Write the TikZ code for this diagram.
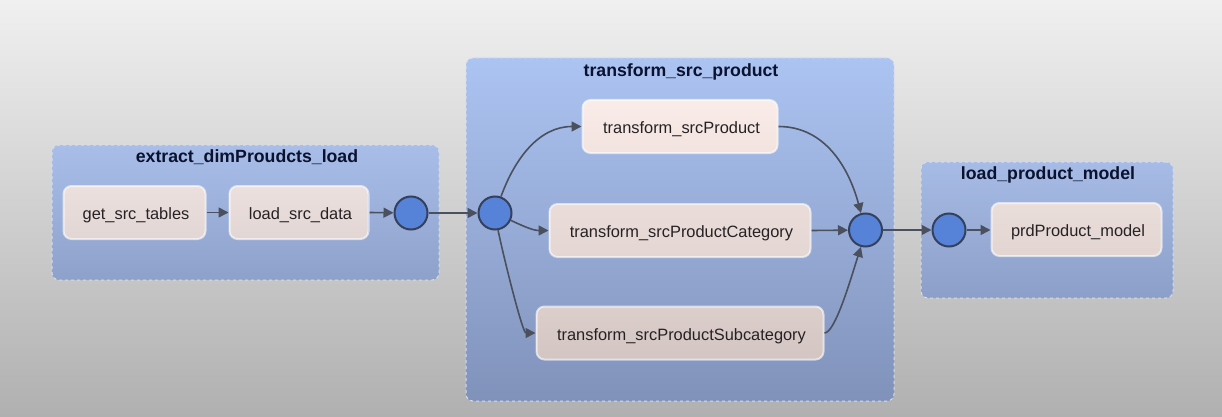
\documentclass[tikz,border=0pt]{standalone}
\usepackage{fontspec}
\setmainfont{Liberation Sans}
\definecolor{linegray}{RGB}{74, 80, 94}
\definecolor{ringgray}{RGB}{52, 64, 92}
\definecolor{dotblue}{RGB}{86, 131, 216}
\definecolor{titleink}{RGB}{10, 18, 48}
\definecolor{taskink}{RGB}{38, 34, 36}
\definecolor{edgewhite}{RGB}{214, 221, 236}
\definecolor{backtop}{RGB}{240, 240, 240}
\definecolor{backmid}{RGB}{216, 216, 216}
\definecolor{backend}{RGB}{176, 176, 176}
\usetikzlibrary{arrows.meta, positioning}

\begin{document}
\begin{tikzpicture}[x=1pt, y=-1pt,
  group/.style={draw=edgewhite, dashed, line width=1pt, rounded corners=7pt, inner sep=0pt},
  gtitle/.style={font=\fontsize{17.7}{20}\selectfont\bfseries, text=titleink, text height=13pt, text depth=0pt},
  task/.style={draw=white, draw opacity=0.6, line width=2pt, rounded corners=8pt, minimum height=53pt, inner sep=0pt, font=\fontsize{16.4}{20}\selectfont, text=taskink, text height=14pt, text depth=0pt, execute at begin node=\hspace{3pt}},
  dot/.style={circle, draw=ringgray, fill=dotblue, line width=2pt, minimum size=33pt, inner sep=0pt},
  flow/.style={-{Triangle[length=10pt, width=10pt]}, line width=1.6pt, linegray}
]
  % Backdrop
  \shade[top color=backtop, middle color=backmid, bottom color=backend, shading angle=0] (0, 0) rectangle (1222, 417);
  \useasboundingbox (0, 0) rectangle (1222, 417);

  % Group boxes
  \node[group, minimum width=387pt, minimum height=135pt, top color={rgb,255:red,168;green,190;blue,232}, bottom color={rgb,255:red,142;green,161;blue,203}] (extract) at (245.5, 212.5) {};
  \node[group, minimum width=428pt, minimum height=343pt, top color={rgb,255:red,172;green,196;blue,242}, bottom color={rgb,255:red,128;green,146;blue,186}] (transform) at (680, 229.5) {};
  \node[group, minimum width=252pt, minimum height=136pt, top color={rgb,255:red,166;green,187;blue,229}, bottom color={rgb,255:red,140;green,159;blue,200}] (load) at (1047, 230) {};

  \node[gtitle] (extractname) at (247, 156) {extract\_dimProudcts\_load};
  \node[gtitle] (transformname) at (681, 70) {transform\_src\_product};
  \node[gtitle] (loadname) at (1048, 173) {load\_product\_model};

  % Extract tasks
  \node[task, minimum width=142pt, top color={rgb,255:red,235;green,224;blue,221}, bottom color={rgb,255:red,226;green,214;blue,212}] (tables) at (134.5, 212.5) {get\_src\_tables};
  \node[task, minimum width=139pt, top color={rgb,255:red,235;green,224;blue,221}, bottom color={rgb,255:red,226;green,214;blue,212}] (data) at (299, 212.5) {load\_src\_data};
  \node[dot] (d1) at (411, 213) {};

  % Transform tasks
  \node[dot] (d2) at (495, 213) {};
  \node[task, minimum width=195pt, top color={rgb,255:red,250;green,236;blue,232}, bottom color={rgb,255:red,242;green,227;blue,223}] (product) at (680, 126.5) {transform\_srcProduct};
  \node[task, minimum width=261pt, top color={rgb,255:red,234;green,220;blue,216}, bottom color={rgb,255:red,228;green,214;blue,210}] (category) at (680, 230.5) {transform\_srcProductCategory};
  \node[task, minimum width=287pt, top color={rgb,255:red,220;green,206;blue,203}, bottom color={rgb,255:red,210;green,197;blue,194}] (subcat) at (680, 333) {transform\_srcProductSubcategory};
  \node[dot] (d3) at (865.5, 230) {};

  % Load tasks
  \node[dot] (d4) at (949, 230) {};
  \node[task, minimum width=170pt, top color={rgb,255:red,234;green,222;blue,218}, bottom color={rgb,255:red,226;green,213;blue,209}] (model) at (1076.5, 229.5) {prdProduct\_model};

  \draw[flow] (tables) -- (data);
  \draw[flow] (data.east) -- (d1);
  \draw[flow] (d1) -- (d2);
  \draw[flow] (d2.70) to[out=70, in=180] (product.west);
  \draw[flow] (d2.-25) to[out=-25, in=180] (category.west);
  \draw[flow] (d2.-80) to[out=-78, in=180, out looseness=0.8, in looseness=0.3] (subcat.west);
  \draw[flow] (product.east) to[out=0, in=105] (d3.105);
  \draw[flow] (category.east) -- (d3);
  \draw[flow] (subcat.east) to[out=0, in=-108, out looseness=0.3, in looseness=0.8] (d3.-105);
  \draw[flow] (d3) -- (d4);
  \draw[flow] (d4.east) -- (model.west |- d4.east);
\end{tikzpicture}
\end{document}
